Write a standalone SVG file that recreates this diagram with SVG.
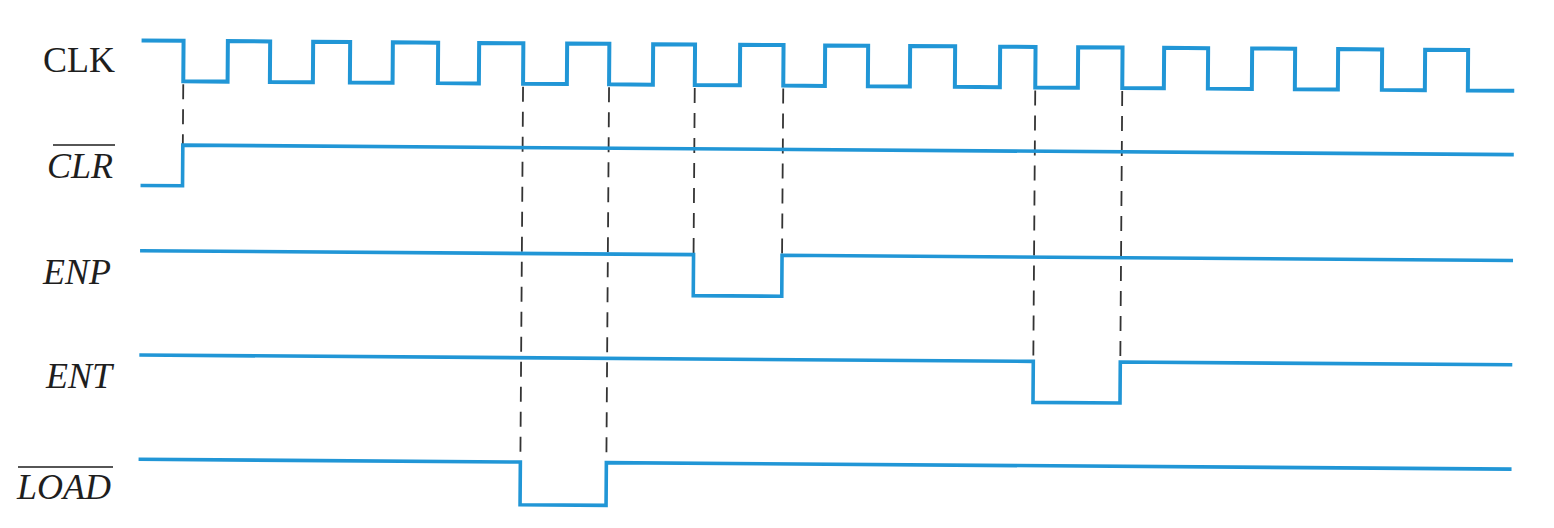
<svg xmlns="http://www.w3.org/2000/svg" width="1554" height="528" viewBox="0 0 1554 528">
<style>
.lbl{font-family:"Liberation Serif","DejaVu Serif","Times New Roman",serif;font-size:36px;fill:#1e1e1e}
.it{font-style:italic}
.bar{stroke:#1e1e1e;stroke-width:1.6}
.wave{fill:none;stroke:#2196d6;stroke-width:3.6;stroke-linejoin:miter;stroke-linecap:butt}
.dash{stroke:#333333;stroke-width:1.8;stroke-dasharray:15 10;fill:none}
</style>
<rect width="1554" height="528" fill="#ffffff"/>
<g id="labels">
<text class="lbl" x="115" y="72" text-anchor="end">CLK</text>
<text class="lbl it" x="113" y="178" text-anchor="end">CLR</text>
<line class="bar" x1="53" y1="145" x2="115" y2="145"/>
<text class="lbl it" x="111" y="284" text-anchor="end">ENP</text>
<text class="lbl it" x="112" y="388" text-anchor="end">ENT</text>
<text class="lbl it" x="111" y="499" text-anchor="end">LOAD</text>
<line class="bar" x1="18" y1="467" x2="113" y2="467"/>
</g>
<g transform="rotate(0.41 140 260)">
<g id="connectors">
<line class="dash" x1="182" y1="84" x2="182" y2="144"/>
<line class="dash" x1="521.8" y1="84" x2="521.8" y2="459"/>
<line class="dash" x1="607.8" y1="84" x2="607.8" y2="459"/>
<line class="dash" x1="693.5" y1="84" x2="693.5" y2="250"/>
<line class="dash" x1="782" y1="84" x2="782" y2="250"/>
<line class="dash" x1="1034" y1="84" x2="1034" y2="355"/>
<line class="dash" x1="1121" y1="84" x2="1121" y2="355"/>
</g>
<g id="clk">
<polyline class="wave" style="stroke-width:4" points="140,40.5 182,40.5 182,81 226.3,81 226.3,40.5 268.6,40.5 268.6,81 311.6,81 311.6,40.5 348.6,40.5 348.6,81 391.3,81 391.3,40.5 436.6,40.5 436.6,81 477.6,81 477.6,40.5 521.8,40.5 521.8,81 565.6,81 565.6,40.5 607.8,40.5 607.8,81 651.6,81 651.6,40.5 693.5,40.5 693.5,81 738.6,81 738.6,40.5 782,40.5 782,81 823.6,81 823.6,40.5 866.6,40.5 866.6,81 908.6,81 908.6,40.5 953.6,40.5 953.6,81 998.6,81 998.6,40.5 1034,40.5 1034,81 1076.6,81 1076.6,40.5 1121,40.5 1121,81 1162.6,81 1162.6,40.5 1206.6,40.5 1206.6,81 1250.6,81 1250.6,40.5 1293.6,40.5 1293.6,81 1336.6,81 1336.6,40.5 1380.6,40.5 1380.6,81 1423.6,81 1423.6,40.5 1466.6,40.5 1466.6,81 1513,81"/>
</g>
<g id="clr">
<polyline class="wave" points="140,185.5 182,185.5 182,144.8 1513,144.8"/>
</g>
<g id="enp">
<polyline class="wave" points="140,250.7 693.5,250.7 693.5,291.7 782,291.7 782,250.7 1513,250.7"/>
</g>
<g id="ent">
<polyline class="wave" points="140,355 1034,355 1034,396 1121,396 1121,355 1513,355"/>
</g>
<g id="load">
<polyline class="wave" points="140,459.3 521.8,459.3 521.8,502 607.8,502 607.8,459.3 1513,459.3"/>
</g>
</g>
</svg>
